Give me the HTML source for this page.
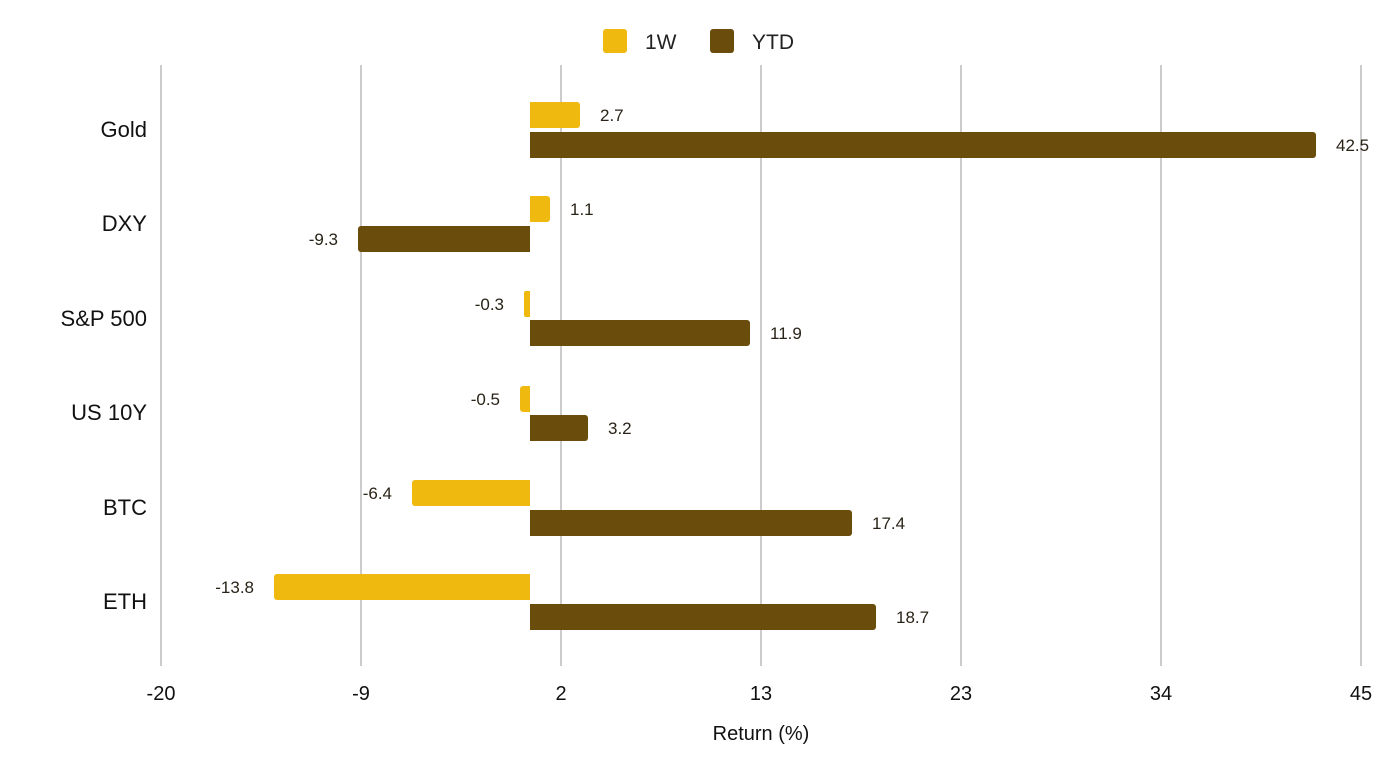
<!DOCTYPE html>
<html><head><meta charset="utf-8"><style>
html,body{margin:0;padding:0;background:#fff;}
svg{display:block;font-family:"Liberation Sans",Arial,sans-serif;}
</style></head><body>
<svg width="1398" height="762" viewBox="0 0 1398 762" xmlns="http://www.w3.org/2000/svg">
<rect width="1398" height="762" fill="#fff"/>
<rect x="603" y="29" width="24" height="24" rx="3" fill="#EFB90F"/>
<text x="645" y="49" font-size="21" fill="#222">1W</text>
<rect x="710" y="29" width="24" height="24" rx="3" fill="#6A4C0C"/>
<text x="752" y="49" font-size="21" fill="#222">YTD</text>
<g stroke="#cccccc" stroke-width="2">
<line x1="161" y1="65" x2="161" y2="666"/>
<line x1="361" y1="65" x2="361" y2="666"/>
<line x1="561" y1="65" x2="561" y2="666"/>
<line x1="761" y1="65" x2="761" y2="666"/>
<line x1="961" y1="65" x2="961" y2="666"/>
<line x1="1161" y1="65" x2="1161" y2="666"/>
<line x1="1361" y1="65" x2="1361" y2="666"/>
</g>
<g font-size="20" fill="#111" text-anchor="middle">
<text x="161" y="700">-20</text>
<text x="361" y="700">-9</text>
<text x="561" y="700">2</text>
<text x="761" y="700">13</text>
<text x="961" y="700">23</text>
<text x="1161" y="700">34</text>
<text x="1361" y="700">45</text>
<text x="761" y="740">Return (%)</text>
</g>
<g font-size="22" fill="#111" text-anchor="end">
<text x="147" y="137">Gold</text>
<text x="147" y="231">DXY</text>
<text x="147" y="326">S&amp;P 500</text>
<text x="147" y="420">US 10Y</text>
<text x="147" y="515">BTC</text>
<text x="147" y="609">ETH</text>
</g>
<g fill="#EFB90F">
<path d="M530,102 h47 a3,3 0 0 1 3,3 v20 a3,3 0 0 1 -3,3 h-47 z"/>
<path d="M530,196 h17 a3,3 0 0 1 3,3 v20 a3,3 0 0 1 -3,3 h-17 z"/>
<path d="M530,291 h-4 a2,2 0 0 0 -2,2 v22 a2,2 0 0 0 2,2 h4 z"/>
<path d="M530,386 h-7 a3,3 0 0 0 -3,3 v20 a3,3 0 0 0 3,3 h7 z"/>
<path d="M530,480 h-115 a3,3 0 0 0 -3,3 v20 a3,3 0 0 0 3,3 h115 z"/>
<path d="M530,574 h-253 a3,3 0 0 0 -3,3 v20 a3,3 0 0 0 3,3 h253 z"/>
</g>
<g fill="#6A4C0C">
<path d="M530,132 h783 a3,3 0 0 1 3,3 v20 a3,3 0 0 1 -3,3 h-783 z"/>
<path d="M530,226 h-169 a3,3 0 0 0 -3,3 v20 a3,3 0 0 0 3,3 h169 z"/>
<path d="M530,320 h217 a3,3 0 0 1 3,3 v20 a3,3 0 0 1 -3,3 h-217 z"/>
<path d="M530,415 h55 a3,3 0 0 1 3,3 v20 a3,3 0 0 1 -3,3 h-55 z"/>
<path d="M530,510 h319 a3,3 0 0 1 3,3 v20 a3,3 0 0 1 -3,3 h-319 z"/>
<path d="M530,604 h343 a3,3 0 0 1 3,3 v20 a3,3 0 0 1 -3,3 h-343 z"/>
</g>
<g font-size="17" fill="#2a2418">
<text x="600" y="121">2.7</text>
<text x="1336" y="151">42.5</text>
<text x="570" y="215">1.1</text>
<text x="338" y="245" text-anchor="end">-9.3</text>
<text x="504" y="310" text-anchor="end">-0.3</text>
<text x="770" y="339">11.9</text>
<text x="500" y="405" text-anchor="end">-0.5</text>
<text x="608" y="434">3.2</text>
<text x="392" y="499" text-anchor="end">-6.4</text>
<text x="872" y="529">17.4</text>
<text x="254" y="593" text-anchor="end">-13.8</text>
<text x="896" y="623">18.7</text>
</g>
</svg>
</body></html>
